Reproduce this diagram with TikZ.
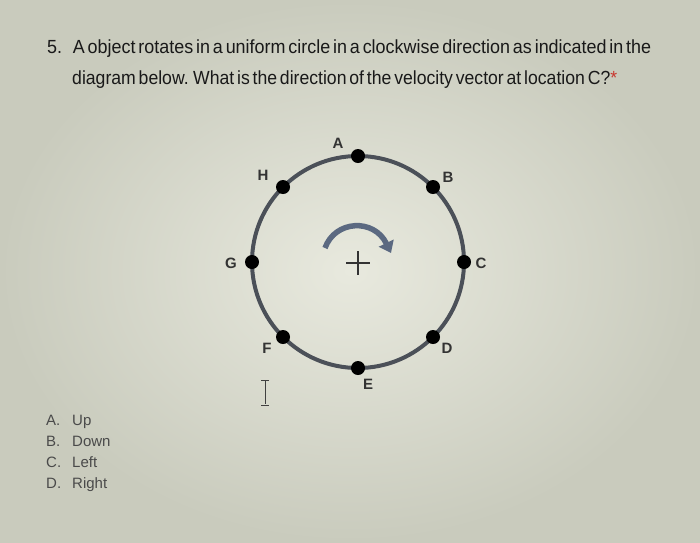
\documentclass[tikz,border=0pt]{standalone}
\usepackage{fontspec}
\setmainfont{Liberation Sans}
\usetikzlibrary{arrows.meta}

\definecolor{screen}{HTML}{E8E9DE}
\definecolor{screenedge}{HTML}{C9CBBD}
\definecolor{rimgray}{HTML}{4B5058}
\definecolor{turnblue}{HTML}{5B6981}
\definecolor{optgray}{HTML}{4A4A4A}
\definecolor{starred}{HTML}{C8362E}

% stretch a text to a given width, keep its height
\newcommand{\narrowto}[2]{\resizebox{#1}{\height}{\spaceskip=0.16em\relax #2}}

\tikzset{
  spot/.style={circle,fill=black,inner sep=0pt,minimum size=14pt},
  letter/.style={inner sep=0pt,text=black!80,font=\fontsize{15}{15}\selectfont\bfseries},
  question/.style={anchor=base west,inner sep=0pt,text=black!90,font=\fontsize{19}{19}\selectfont},
  choice/.style={anchor=base west,inner sep=0pt,text=optgray,font=\fontsize{15}{15}\selectfont},
}

\begin{document}
\begin{tikzpicture}[x=1pt,y=-1pt]
	\shade[inner color=screen,outer color=screenedge] (0,0) rectangle (700,542);
	\useasboundingbox (0,0) rectangle (700,542);

	% question
	\node[question] (line1) at (47,53) {\narrowto{604pt}{5.\hspace{0.6em}A object rotates in a uniform circle in a clockwise direction as indicated in the}};
	\node[question] (line2) at (72,84) {\narrowto{545pt}{diagram below. What is the direction of the velocity vector at location C?\textcolor{starred}{*}}};

	% track
	\draw[rimgray,line width=4pt] (358,262) circle (106pt);

	\node[spot] (A) at (358,156) {};
	\node[spot] (B) at (433,187) {};
	\node[spot] (C) at (464,262) {};
	\node[spot] (D) at (433,337) {};
	\node[spot] (E) at (358,368) {};
	\node[spot] (F) at (283,337) {};
	\node[spot] (G) at (252,262) {};
	\node[spot] (H) at (283,187) {};

	\node[letter] (labA) at (338,143) {A};
	\node[letter] (labB) at (448,177) {B};
	\node[letter] (labC) at (481,263) {C};
	\node[letter] (labD) at (447,348) {D};
	\node[letter] (labE) at (368,384) {E};
	\node[letter] (labF) at (267,348) {F};
	\node[letter] (labG) at (231,263) {G};
	\node[letter] (labH) at (263,175) {H};

	% sense of rotation and centre
	\draw[turnblue,line width=5.5pt,-{Triangle[length=11pt,width=16pt]}] (325,248) .. controls (335,220) and (374,218) .. (391,253);
	\draw[black!80,line width=1.3pt] (346,263) -- (370,263);
	\draw[black!80,line width=1.3pt] (358,251) -- (358,275);

	% text cursor
	\draw[black!75,line width=1pt] (265,381) -- (265,404);
	\draw[black!75,line width=1pt] (261,380) -- (269,380);
	\draw[black!75,line width=1pt] (261,405) -- (269,405);

	% choices
	\node[choice] (optA) at (46,425) {\makebox[26pt][l]{A.}Up};
	\node[choice] (optB) at (46,446) {\makebox[26pt][l]{B.}Down};
	\node[choice] (optC) at (46,467) {\makebox[26pt][l]{C.}Left};
	\node[choice] (optD) at (46,488) {\makebox[26pt][l]{D.}Right};
\end{tikzpicture}
\end{document}
